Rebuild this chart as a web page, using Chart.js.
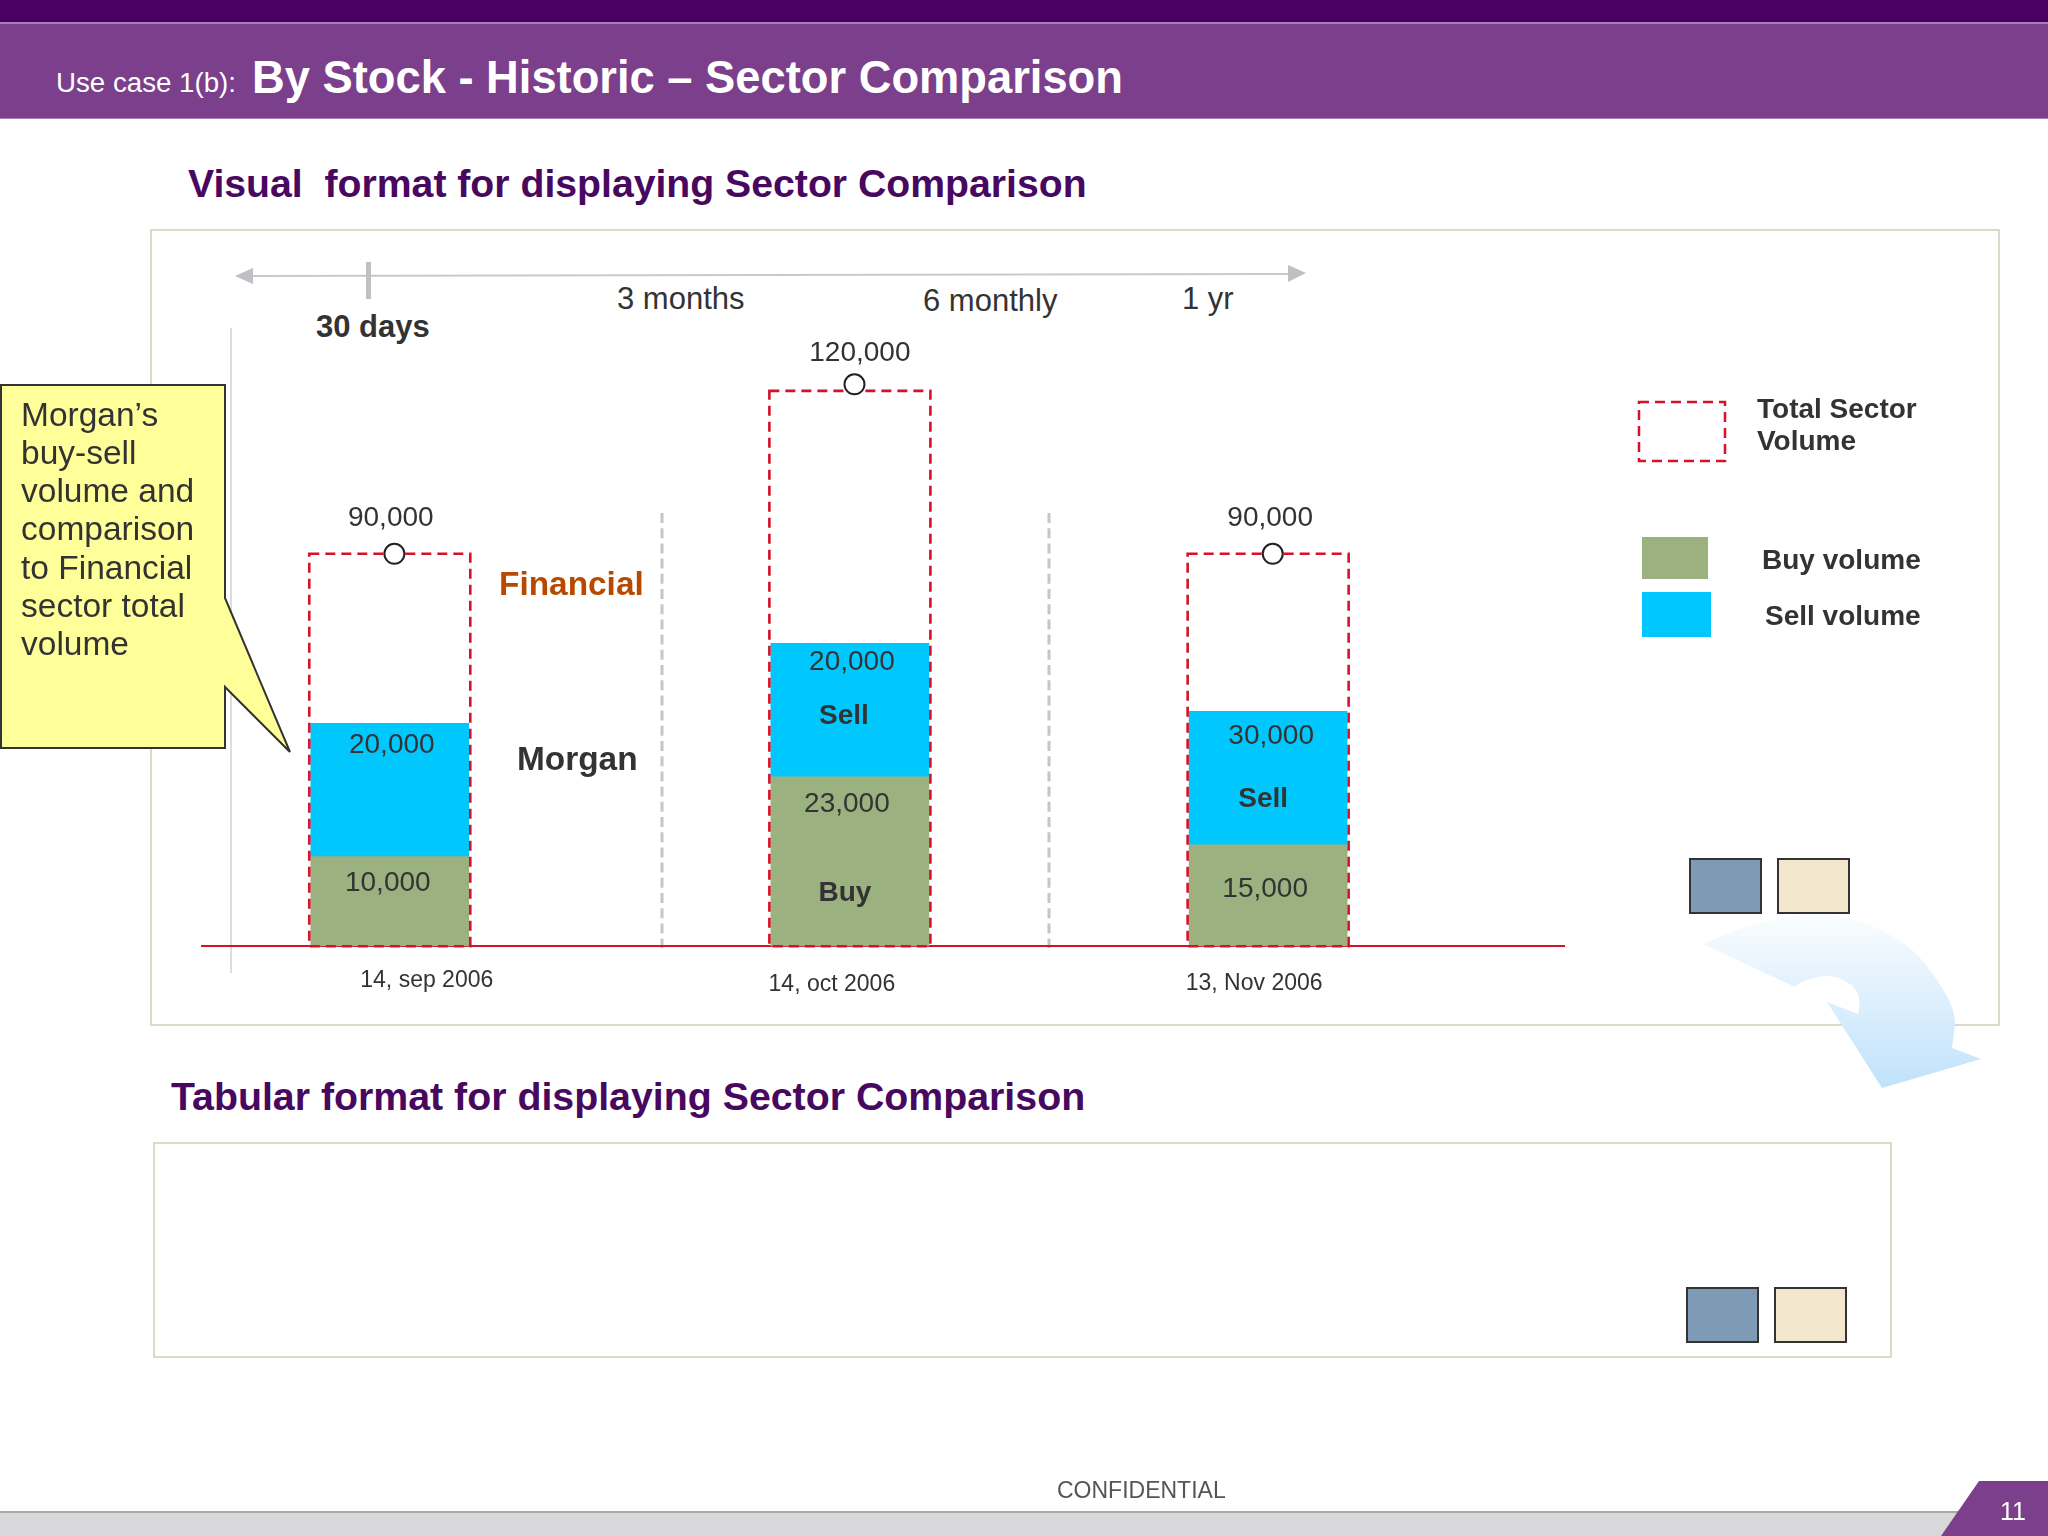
<!doctype html>
<html>

<head>
	<meta charset="utf-8">
	<title>By Stock - Historic - Sector Comparison</title>
	<script src="https://cdn.jsdelivr.net/npm/chart.js@4/dist/chart.umd.min.js"></script>
	<style>
	html, body { margin: 0; padding: 0; background: #fff; }
	#slide { position: relative; width: 2048px; height: 1536px; overflow: hidden; font-family: "Liberation Sans", Arial, sans-serif; color: #333; }
	#slide > * { position: absolute; }
	.txt { white-space: pre; line-height: 1; transform: translateY(-50%); }
	.b { font-weight: bold; }
	.sq { border: 2px solid #333; box-sizing: border-box; }
	canvas { left: 0; top: 0; }
	</style>
</head>

<body>

<div id="slide">
	<div style="left:0;top:0;width:2048px;height:22px;background:#4a0062"></div>
	<div style="left:0;top:22px;width:2048px;height:97px;background:#7b3f8c;border-top:2px solid #a77fb8;border-bottom:1px solid #a77fb8;box-sizing:border-box"></div>
	<div class="txt" style="left:56px;top:83px;font-size:27.7px;color:#fff">Use case 1(b):</div>
	<div class="txt b" style="left:252px;top:78px;font-size:45.3px;color:#fff">By Stock - Historic – Sector Comparison</div>

	<div class="txt b" style="left:188px;top:184px;font-size:39.2px;color:#48085f">Visual  format for displaying Sector Comparison</div>
	<div style="left:150px;top:229px;width:1850px;height:797px;border:2px solid #d8dcc8;box-sizing:border-box"></div>
	<div class="txt b" style="left:171px;top:1097px;font-size:39.3px;color:#48085f">Tabular format for displaying Sector Comparison</div>
	<div style="left:153px;top:1142px;width:1739px;height:216px;border:2px solid #d8dcc8;box-sizing:border-box"></div>

	<!-- time range selector and axis guides -->
	<svg width="2048" height="1536" style="left:0;top:0">
		<line x1="252" y1="276" x2="1290" y2="274" stroke="#c9c9cb" stroke-width="2"/>
		<polygon points="235,276 253,268 253,284" fill="#c0c0c4"/>
		<polygon points="1306,273 1288,265 1288,282" fill="#c0c0c4"/>
		<rect x="366" y="262" width="5" height="37" fill="#c0c0c4"/>
		<line x1="231" y1="328" x2="231" y2="973" stroke="#dcdfd4" stroke-width="2"/>
		<line x1="662" y1="513" x2="662" y2="948" stroke="#c6c6c6" stroke-width="3" stroke-dasharray="10 5.2"/>
		<line x1="1049" y1="513" x2="1049" y2="948" stroke="#c6c6c6" stroke-width="3" stroke-dasharray="10 5.2"/>
	</svg>
	<div class="txt b" style="left:316px;top:326px;font-size:31px">30 days</div>
	<div class="txt" style="left:617px;top:298px;font-size:31px">3 months</div>
	<div class="txt" style="left:923px;top:300px;font-size:31px">6 monthly</div>
	<div class="txt" style="left:1182px;top:298px;font-size:31px">1 yr</div>

	<canvas id="canvas" width="2048" height="1536"></canvas>

	<div class="txt b" style="left:499px;top:584px;font-size:33.4px;color:#b84a00">Financial</div>
	<div class="txt b" style="left:517px;top:759px;font-size:33.4px">Morgan</div>

	<!-- callout, legend, toggles and curved arrow -->
	<svg width="2048" height="1536" style="left:0;top:0">
		<defs>
			<linearGradient id="curve" x1="0" y1="0" x2="0" y2="1">
				<stop offset="0" stop-color="#fafdff"/>
				<stop offset="0.35" stop-color="#e6f3fd"/>
				<stop offset="1" stop-color="#bfe2fb"/>
			</linearGradient>
		</defs>
		<polygon points="1,385 225,385 225,598 290,752 225,687 225,748 1,748" fill="#ffff99" stroke="#333" stroke-width="2"/>
		<path d="M1703,944 C1745,925 1790,912 1828,915 C1870,920 1905,940 1922,960 C1942,985 1955,1005 1955,1024 L1952,1048 L1981,1059 L1882,1088 L1827,1002 L1858,1014 C1862,1000 1858,988 1848,983 C1838,976 1826,975 1818,977 C1808,979 1800,982 1795,987 Z" fill="url(#curve)"/>
		<rect x="1639" y="402" width="86" height="59" fill="none" stroke="#d4122a" stroke-width="2.5" stroke-dasharray="10 6"/>
		<rect x="1642" y="537" width="66" height="42" fill="#9bb17f"/>
		<rect x="1642" y="592" width="69" height="45" fill="#00c8ff"/>
	</svg>
	<div class="txt" style="left:21px;top:415px;font-size:33.5px">Morgan’s</div>
	<div class="txt" style="left:21px;top:453px;font-size:33.5px">buy-sell</div>
	<div class="txt" style="left:21px;top:491px;font-size:33.5px">volume and</div>
	<div class="txt" style="left:21px;top:529px;font-size:33.5px">comparison</div>
	<div class="txt" style="left:21px;top:568px;font-size:33.5px">to Financial</div>
	<div class="txt" style="left:21px;top:606px;font-size:33.5px">sector total</div>
	<div class="txt" style="left:21px;top:644px;font-size:33.5px">volume</div>

	<div class="txt b" style="left:1757px;top:409px;font-size:28px">Total Sector</div>
	<div class="txt b" style="left:1757px;top:441px;font-size:28px">Volume</div>
	<div class="txt b" style="left:1762px;top:560px;font-size:28px">Buy volume</div>
	<div class="txt b" style="left:1765px;top:616px;font-size:28px">Sell volume</div>

	<div class="sq" style="left:1689px;top:858px;width:73px;height:56px;background:#7f9ab4"></div>
	<div class="sq" style="left:1777px;top:858px;width:73px;height:56px;background:#f2e6cc"></div>
	<div class="sq" style="left:1686px;top:1287px;width:73px;height:56px;background:#7f9ab4"></div>
	<div class="sq" style="left:1774px;top:1287px;width:73px;height:56px;background:#f2e6cc"></div>

	<div class="txt" style="left:1057px;top:1490px;font-size:23px;color:#555">CONFIDENTIAL</div>
	<div style="left:0;top:1511px;width:2048px;height:25px;background:#d8d8da;border-top:2px solid #a8a8a8;box-sizing:border-box"></div>
	<svg width="2048" height="1536" style="left:0;top:0">
		<polygon points="1941,1536 1979,1481 2048,1481 2048,1536" fill="#7b3f8c"/>
	</svg>
	<div class="txt" style="left:2000px;top:1511px;font-size:25px;color:#fff">11</div>
</div>

	<script>

		// printed on the slide
		var categories = ['14, sep 2006', '14, oct 2006', '13, Nov 2006'];
		var buyValues = [10000, 23000, 15000];
		var sellValues = [20000, 20000, 30000];
		var totalValues = [90000, 120000, 90000];
		var sellWords = ['', 'Sell', 'Sell'];
		var buyWords = ['', 'Buy', ''];

		// the slide's bars are a sketch and not to scale with the printed numbers,
		// so these are read off the bar heights (the 90,000 box as the yardstick)
		var buyHeights = [20550, 38850, 23250];
		var sellHeights = [30600, 30600, 30600];
		var totalHeights = [90000, 127350, 90000];
		var markerHeights = [90000, 128850, 90000];

		// bars are not evenly spaced on the slide
		var slots = [0, 11, 21];
		var markerNudge = 0.11;

		// label nudges from the bar centre / segment top, in px
		var totalNudge = { dx: [1, 10, 2], dy: [-35, -38, -35] };
		var sellNudge = { dx: [2, 2, 3], dy: [22, 19, 25] };
		var buyNudge = { dx: [-2, -3, -3], dy: [27, 27, 44] };
		var sellWordNudge = { dx: [0, -6, -5], dy: [0, 73, 88] };
		var buyWordNudge = { dx: [0, -5, 0], dy: [0, 116, 0] };
		var dateNudge = { dx: [37, -18, -14], dy: [34, 38, 37] };

		function points(values, shift) {
			return values.map(function(v, i) { return { x: slots[i] + (shift || 0), y: v }; });
		}

		function fmt(n) {
			return n.toLocaleString('en-US');
		}

		var dashedTotals = {
			id: 'dashedTotals',
			afterDatasetDraw: function(chart, args) {
				if (args.index !== 2) return;
				var ctx = chart.ctx;
				ctx.save();
				ctx.strokeStyle = '#d4122a';
				ctx.lineWidth = 2.6;
				ctx.setLineDash([10, 6]);
				args.meta.data.forEach(function(bar) {
					ctx.strokeRect(bar.x - bar.width / 2, bar.y, bar.width, bar.base - bar.y);
				});
				ctx.restore();
			}
		};

		var barLabels = {
			id: 'barLabels',
			afterDraw: function(chart) {
				var ctx = chart.ctx;
				var buy = chart.getDatasetMeta(0).data;
				var sell = chart.getDatasetMeta(1).data;
				var total = chart.getDatasetMeta(2).data;
				var font = '28px "Liberation Sans"';
				var bold = 'bold 28px "Liberation Sans"';

				ctx.save();
				ctx.textAlign = 'center';
				ctx.textBaseline = 'middle';
				ctx.fillStyle = '#333';

				function put(text, bar, nudge, i, f) {
					ctx.font = f;
					ctx.fillText(text, bar.x + nudge.dx[i], bar.y + nudge.dy[i]);
				}

				categories.forEach(function(date, i) {
					put(fmt(totalValues[i]), total[i], totalNudge, i, font);
					put(fmt(sellValues[i]), sell[i], sellNudge, i, font);
					put(fmt(buyValues[i]), buy[i], buyNudge, i, font);
					if (sellWords[i]) put(sellWords[i], sell[i], sellWordNudge, i, bold);
					if (buyWords[i]) put(buyWords[i], buy[i], buyWordNudge, i, bold);
					ctx.font = '23px "Liberation Sans"';
					ctx.fillText(date, total[i].x + dateNudge.dx[i], total[i].base + dateNudge.dy[i]);
				});
				ctx.restore();
			}
		};

		window.onload = function() {
			var ctx = document.getElementById('canvas').getContext('2d');
			window.myBar = new Chart(ctx, {
				type: 'bar',
				data: {
					datasets: [
						{ label: 'Buy volume', data: points(buyHeights), stack: 'volume', grouped: false, barPercentage: 1, categoryPercentage: 1, backgroundColor: '#9bb17f', maxBarThickness: 158, order: 2 },
						{ label: 'Sell volume', data: points(sellHeights), stack: 'volume', grouped: false, barPercentage: 1, categoryPercentage: 1, backgroundColor: '#00c8ff', maxBarThickness: 158, order: 3 },
						{ label: 'Total Sector Volume', data: points(totalHeights), stack: 'total', grouped: false, barPercentage: 1, categoryPercentage: 1, backgroundColor: 'rgba(0,0,0,0)', maxBarThickness: 161, order: 1 },
						{ type: 'line', label: 'Total marker', data: points(markerHeights, markerNudge), showLine: false, pointRadius: 10, pointBorderWidth: 2, pointBorderColor: '#222', pointBackgroundColor: '#fff', order: 0 }
					]
				},
				options: {
					responsive: false,
					devicePixelRatio: 1,
					animation: false,
					layout: { padding: { left: 202.4, right: 483.3, top: 335.7, bottom: 589.7 } },
					plugins: { legend: { display: false }, tooltip: { enabled: false } },
					scales: {
						x: {
							type: 'linear',
							offset: false,
							min: -4.48,
							max: 28.09,
							grid: { display: false, drawTicks: false, offset: false },
							ticks: { display: false, stepSize: 100 },
							border: { color: '#d4122a', width: 2 }
						},
						y: {
							display: false,
							stacked: true,
							min: 0,
							max: 140000
						}
					}
				},
				plugins: [dashedTotals, barLabels]
			});
		};

	</script>

</body>

</html>
